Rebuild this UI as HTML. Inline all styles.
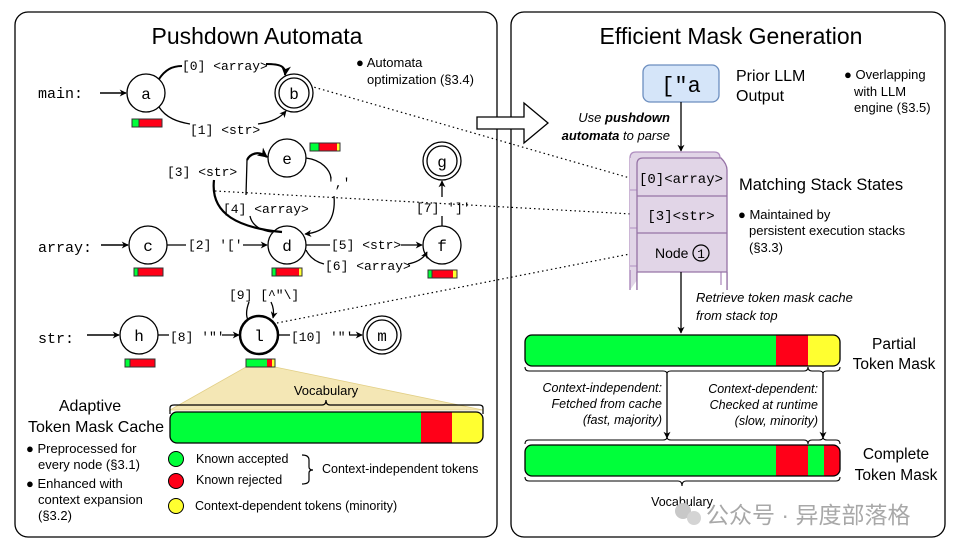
<!DOCTYPE html>
<html><head><meta charset="utf-8"><style>
html,body{margin:0;padding:0;background:#fff;width:976px;height:550px;overflow:hidden}
svg text{font-family:"Liberation Sans",sans-serif;fill:#000}
.m{font-family:"Liberation Mono","DejaVu Sans Mono",monospace !important}
</style></head><body>
<svg width="976" height="550" viewBox="0 0 976 550" xmlns="http://www.w3.org/2000/svg">
<defs>
<marker id="ar" viewBox="0 0 10 10" refX="9" refY="5" markerWidth="7" markerHeight="7" orient="auto-start-reverse" markerUnits="userSpaceOnUse"><path d="M0,0 L10,5 L0,10 L3,5z" fill="#000"/></marker>
<marker id="arb" viewBox="0 0 10 10" refX="9" refY="5" markerWidth="10" markerHeight="10" orient="auto" markerUnits="userSpaceOnUse"><path d="M0,0 L10,5 L0,10 L3,5z" fill="#000"/></marker>
</defs>
<rect x="15" y="12" width="482" height="525" rx="13" fill="#fff" stroke="#000" stroke-width="1.3"/>
<rect x="511" y="12" width="434" height="525" rx="13" fill="#fff" stroke="#000" stroke-width="1.3"/>
<text x="257" y="44" font-size="23" text-anchor="middle">Pushdown Automata</text>
<text x="731" y="44" font-size="23" text-anchor="middle">Efficient Mask Generation</text>

<polygon points="246,367 275,367 483,410 170,410" fill="#f4e7b5" stroke="#e2cf86" stroke-width="0.8"/>

<g stroke="#000" stroke-width="1.2" stroke-dasharray="1.5,3" fill="none">
<line x1="310" y1="86" x2="630" y2="178"/>
<line x1="215" y1="191" x2="632" y2="214"/>
<line x1="277" y1="323" x2="635" y2="253"/>
</g>

<text x="38" y="98" font-size="15" class="m">main:</text>
<line x1="100" y1="93" x2="126" y2="93" stroke="#000" stroke-width="1.5" marker-end="url(#ar)"/>
<circle cx="146" cy="93" r="19" fill="#fff" stroke="#000" stroke-width="1.3"/>
<text x="146" y="99" font-size="16" text-anchor="middle" class="m">a</text>
<circle cx="294" cy="93" r="19" fill="#fff" stroke="#000" stroke-width="1.3"/>
<circle cx="294" cy="93" r="15" fill="none" stroke="#000" stroke-width="1.3"/>
<text x="294" y="99" font-size="16" text-anchor="middle" class="m">b</text>
<path d="M159,79 C165,70 172,66 182,66" fill="none" stroke="#000" stroke-width="2"/>
<path d="M266,64 C280,64 286,66 285,75" fill="none" stroke="#000" stroke-width="2" marker-end="url(#arb)"/>
<text x="182" y="70" font-size="13" class="m">[0] &lt;array&gt;</text>
<path d="M159,107 C166,118 178,122 190,124" fill="none" stroke="#000" stroke-width="1.3"/>
<path d="M258,124 C272,122 280,118 286,111" fill="none" stroke="#000" stroke-width="1.3" marker-end="url(#ar)"/>
<text x="190" y="134" font-size="13" class="m">[1] &lt;str&gt;</text>

<text x="38" y="252" font-size="15" class="m">array:</text>
<line x1="101" y1="245" x2="128" y2="245" stroke="#000" stroke-width="1.5" marker-end="url(#ar)"/>
<circle cx="148" cy="245" r="19" fill="#fff" stroke="#000" stroke-width="1.3"/>
<text x="148" y="251" font-size="16" text-anchor="middle" class="m">c</text>
<circle cx="287" cy="245" r="19" fill="#fff" stroke="#000" stroke-width="1.3"/>
<text x="287" y="251" font-size="16" text-anchor="middle" class="m">d</text>
<circle cx="287" cy="158" r="19" fill="#fff" stroke="#000" stroke-width="1.3"/>
<text x="287" y="164" font-size="16" text-anchor="middle" class="m">e</text>
<circle cx="442" cy="245" r="19" fill="#fff" stroke="#000" stroke-width="1.3"/>
<text x="442" y="251" font-size="16" text-anchor="middle" class="m">f</text>
<circle cx="442" cy="161" r="19" fill="#fff" stroke="#000" stroke-width="1.3"/>
<circle cx="442" cy="161" r="15" fill="none" stroke="#000" stroke-width="1.3"/>
<text x="442" y="167" font-size="16" text-anchor="middle" class="m">g</text>
<line x1="167" y1="245" x2="186" y2="245" stroke="#000" stroke-width="1.3"/>
<text x="188" y="249" font-size="13" class="m">[2] '['</text>
<line x1="243" y1="245" x2="267" y2="245" stroke="#000" stroke-width="1.3" marker-end="url(#ar)"/>
<line x1="306" y1="245" x2="330" y2="245" stroke="#000" stroke-width="1.3"/>
<text x="331" y="249" font-size="13" class="m">[5] &lt;str&gt;</text>
<line x1="401" y1="245" x2="422" y2="245" stroke="#000" stroke-width="1.3" marker-end="url(#ar)"/>
<path d="M306,250 C310,258 316,262 324,264" fill="none" stroke="#000" stroke-width="1.3"/>
<text x="325" y="270" font-size="13" class="m">[6] &lt;array&gt;</text>
<path d="M408,264 C418,262 424,258 427,252" fill="none" stroke="#000" stroke-width="1.3" marker-end="url(#ar)"/>
<line x1="442" y1="226" x2="442" y2="216" stroke="#000" stroke-width="1.3"/>
<text x="416" y="212" font-size="13" class="m">[7] ']'</text>
<line x1="442" y1="197" x2="442" y2="181" stroke="#000" stroke-width="1.3" marker-end="url(#ar)"/>
<text x="167" y="176" font-size="13" class="m">[3] &lt;str&gt;</text>
<path d="M282,232 C240,228 210,215 214,180" fill="none" stroke="#000" stroke-width="2.2"/>
<path d="M247,160 C250,154 258,150 267,157" fill="none" stroke="#000" stroke-width="2.2" marker-end="url(#arb)"/>
<path d="M246,195 L247,160" fill="none" stroke="#000" stroke-width="1.3"/>
<text x="223" y="213" font-size="13" class="m">[4] &lt;array&gt;</text>
<path d="M250,216 C252,226 262,231 272,232" fill="none" stroke="#000" stroke-width="1.3"/>
<path d="M306,158 C322,160 330,170 331,178" fill="none" stroke="#000" stroke-width="1.3"/>
<text x="327" y="187" font-size="13" class="m">','</text>
<path d="M334,196 C336,220 326,232 305,234" fill="none" stroke="#000" stroke-width="1.3" marker-end="url(#ar)"/>

<text x="38" y="343" font-size="15" class="m">str:</text>
<line x1="87" y1="335" x2="119" y2="335" stroke="#000" stroke-width="1.5" marker-end="url(#ar)"/>
<circle cx="139" cy="335" r="19" fill="#fff" stroke="#000" stroke-width="1.3"/>
<text x="139" y="341" font-size="16" text-anchor="middle" class="m">h</text>
<circle cx="259" cy="335" r="19" fill="#fff" stroke="#000" stroke-width="2.5"/>
<text x="259" y="341" font-size="16" text-anchor="middle" class="m">l</text>
<circle cx="382" cy="335" r="19" fill="#fff" stroke="#000" stroke-width="1.3"/>
<circle cx="382" cy="335" r="15" fill="none" stroke="#000" stroke-width="1.3"/>
<text x="382" y="341" font-size="16" text-anchor="middle" class="m">m</text>
<line x1="158" y1="335" x2="169" y2="335" stroke="#000" stroke-width="1.3"/>
<text x="170" y="341" font-size="13" class="m">[8] '"'</text>
<line x1="222" y1="335" x2="239" y2="335" stroke="#000" stroke-width="1.3" marker-end="url(#ar)"/>
<line x1="278" y1="335" x2="290" y2="335" stroke="#000" stroke-width="1.3"/>
<text x="291" y="341" font-size="13" class="m">[10] '"'</text>
<line x1="350" y1="335" x2="362" y2="335" stroke="#000" stroke-width="1.3" marker-end="url(#ar)"/>
<text x="229" y="299" font-size="13" class="m">[9] [^"\]</text>
<path d="M249,302 C246,310 246,316 248,320" fill="none" stroke="#000" stroke-width="1.3"/>
<path d="M271,302 C274,308 274,313 273,318" fill="none" stroke="#000" stroke-width="1.3" marker-end="url(#ar)"/>

<g stroke="#333" stroke-width="1">
<g><rect x="132" y="119" width="30" height="8" fill="#ff0018"/><rect x="132" y="119" width="7" height="8" fill="#00ff3a"/><rect x="132" y="119" width="30" height="8" fill="none"/></g>
<g><rect x="310" y="143" width="30" height="8" fill="#ff0018"/><rect x="310" y="143" width="9" height="8" fill="#00ff3a"/><rect x="337" y="143" width="3" height="8" fill="#ffff30" stroke="none"/><rect x="310" y="143" width="30" height="8" fill="none"/></g>
<g><rect x="134" y="268" width="29" height="8" fill="#ff0018"/><rect x="134" y="268" width="4" height="8" fill="#00ff3a"/><rect x="134" y="268" width="29" height="8" fill="none"/></g>
<g><rect x="272" y="268" width="30" height="8" fill="#ff0018"/><rect x="272" y="268" width="4" height="8" fill="#00ff3a"/><rect x="299" y="268" width="3" height="8" fill="#ffff30" stroke="none"/><rect x="272" y="268" width="30" height="8" fill="none"/></g>
<g><rect x="428" y="270" width="29" height="8" fill="#ff0018"/><rect x="428" y="270" width="4" height="8" fill="#00ff3a"/><rect x="453" y="270" width="4" height="8" fill="#ffff30" stroke="none"/><rect x="428" y="270" width="29" height="8" fill="none"/></g>
<g><rect x="125" y="359" width="30" height="8" fill="#ff0018"/><rect x="125" y="359" width="5" height="8" fill="#00ff3a"/><rect x="125" y="359" width="30" height="8" fill="none"/></g>
<g><rect x="246" y="359" width="29" height="8" fill="#00ff3a"/><rect x="267" y="359" width="5" height="8" fill="#ff0018" stroke="none"/><rect x="272" y="359" width="3" height="8" fill="#ffff30" stroke="none"/><rect x="246" y="359" width="29" height="8" fill="none"/></g>
</g>

<text x="356" y="67" font-size="13">● Automata</text>
<text x="367" y="84" font-size="13">optimization (§3.4)</text>

<text x="326" y="395" font-size="13" text-anchor="middle">Vocabulary</text>
<path d="M170,414 L170,408 Q170,405 174,405 L322,405 Q326,405 326,400 Q326,405 330,405 L479,405 Q483,405 483,408 L483,414" fill="none" stroke="#000" stroke-width="1.2"/>
<clipPath id="c1"><rect x="170" y="412" width="313" height="31" rx="7"/></clipPath>
<g clip-path="url(#c1)"><rect x="170" y="412" width="313" height="31" fill="#00ff3a"/><rect x="421" y="412" width="31" height="31" fill="#ff0018"/><rect x="452" y="412" width="31" height="31" fill="#ffff30"/></g>
<rect x="170" y="412" width="313" height="31" rx="7" fill="none" stroke="#000" stroke-width="1.3"/>
<circle cx="176" cy="459" r="7.5" fill="#00ff3a" stroke="#000"/>
<circle cx="176" cy="481" r="7.5" fill="#ff0018" stroke="#000"/>
<circle cx="176" cy="506" r="7.5" fill="#ffff30" stroke="#000"/>
<text x="196" y="463" font-size="12.5">Known accepted</text>
<text x="196" y="484" font-size="12.5">Known rejected</text>
<text x="195" y="510" font-size="12.5">Context-dependent tokens (minority)</text>
<path d="M302,455 Q309,455 309,460 L309,467 Q309,470 313,470 Q309,470 309,473 L309,480 Q309,484 302,484" fill="none" stroke="#000" stroke-width="1.2"/>
<text x="322" y="473" font-size="12.5">Context-independent tokens</text>
<text x="90" y="411" font-size="16" text-anchor="middle">Adaptive</text>
<text x="96" y="432" font-size="16" text-anchor="middle">Token Mask Cache</text>
<text x="26" y="453" font-size="13">● Preprocessed for</text>
<text x="38" y="469" font-size="13">every node (§3.1)</text>
<text x="26" y="488" font-size="13">● Enhanced with</text>
<text x="38" y="504" font-size="13">context expansion</text>
<text x="38" y="520" font-size="13">(§3.2)</text>

<path d="M477,117 L524,117 L524,103 L548,123 L524,143 L524,129 L477,129 Z" fill="#fff" stroke="#000" stroke-width="1.3"/>

<rect x="643" y="65" width="76" height="37" rx="7" fill="#d5e5f9" stroke="#6c8ebf" stroke-width="1.3"/>
<text x="681" y="92" font-size="22" text-anchor="middle" class="m">["a</text>
<text x="736" y="81" font-size="16">Prior LLM</text>
<text x="736" y="101" font-size="16">Output</text>
<text x="844" y="79" font-size="13">● Overlapping</text>
<text x="854" y="96" font-size="13">with LLM</text>
<text x="854" y="112" font-size="13">engine (§3.5)</text>
<text x="670" y="122" font-size="13" text-anchor="end" font-style="italic">Use <tspan font-weight="bold">pushdown</tspan></text>
<text x="670" y="140" font-size="13" text-anchor="end" font-style="italic"><tspan font-weight="bold">automata</tspan> to parse</text>
<line x1="681" y1="102" x2="681" y2="151" stroke="#000" stroke-width="1.3" marker-end="url(#ar)"/>
<path d="M630,290 L630,158 Q630,152 636,152 L714,152 Q720,152 720,158 L720,164" fill="#e1d5e7" stroke="#b08fc0" stroke-width="1.3"/>
<rect x="630" y="158" width="8" height="112" fill="#e1d5e7" stroke="none"/>
<line x1="630" y1="190" x2="637" y2="190" stroke="#b08fc0"/><line x1="630" y1="228" x2="637" y2="228" stroke="#b08fc0"/><line x1="630" y1="266" x2="637" y2="266" stroke="#b08fc0"/>
<path d="M637,290 L637,164 Q637,158 643,158 L721,158 Q727,164 727,170 L727,290" fill="#e1d5e7" stroke="#9673a6" stroke-width="1.3"/>
<rect x="637" y="272" width="90" height="20" fill="#fff"/>
<line x1="630" y1="270" x2="630" y2="290" stroke="#b08fc0" stroke-width="1.3"/>
<line x1="637" y1="272" x2="637" y2="290" stroke="#9673a6" stroke-width="1.3"/>
<line x1="721" y1="272" x2="721" y2="285" stroke="#b08fc0" stroke-width="1.3"/>
<line x1="727" y1="272" x2="727" y2="290" stroke="#9673a6" stroke-width="1.3"/>
<line x1="637" y1="196" x2="727" y2="196" stroke="#9673a6" stroke-width="1.3"/>
<line x1="637" y1="233" x2="727" y2="233" stroke="#9673a6" stroke-width="1.3"/>
<line x1="637" y1="272" x2="727" y2="272" stroke="#9673a6" stroke-width="1.3"/>
<text x="681" y="183" font-size="14" text-anchor="middle" class="m">[0]&lt;array&gt;</text>
<text x="681" y="220" font-size="14" text-anchor="middle" class="m">[3]&lt;str&gt;</text>
<text x="655" y="258" font-size="14">Node</text>
<circle cx="701" cy="253" r="8" fill="none" stroke="#000" stroke-width="1.2"/>
<text x="701" y="258" font-size="13" text-anchor="middle" class="m">1</text>
<text x="739" y="190" font-size="16.5">Matching Stack States</text>
<text x="738" y="219" font-size="13">● Maintained by</text>
<text x="749" y="235" font-size="13">persistent execution stacks</text>
<text x="749" y="252" font-size="13">(§3.3)</text>
<line x1="681" y1="272" x2="681" y2="333" stroke="#000" stroke-width="1.3" marker-end="url(#ar)"/>
<text x="696" y="302" font-size="13" font-style="italic">Retrieve token mask cache</text>
<text x="696" y="320" font-size="13" font-style="italic">from stack top</text>

<clipPath id="c2"><rect x="525" y="335" width="315" height="31" rx="7"/></clipPath>
<g clip-path="url(#c2)"><rect x="525" y="335" width="315" height="31" fill="#00ff3a"/><rect x="776" y="335" width="32" height="31" fill="#ff0018"/><rect x="808" y="335" width="32" height="31" fill="#ffff30"/></g>
<rect x="525" y="335" width="315" height="31" rx="7" fill="none" stroke="#000" stroke-width="1.3"/>
<text x="894" y="349" font-size="15.5" text-anchor="middle">Partial</text>
<text x="894" y="369" font-size="15.5" text-anchor="middle">Token Mask</text>
<path d="M525,367 Q525,371 529,371 L663,371 Q667,371 667,374 Q667,371 671,371 L804,371 Q808,371 808,367" fill="none" stroke="#000" stroke-width="1.1"/>
<path d="M808,367 Q808,371 812,371 L819,371 Q823,371 823,374 Q823,371 827,371 L836,371 Q840,371 840,367" fill="none" stroke="#000" stroke-width="1.1"/>
<line x1="667" y1="374" x2="667" y2="438" stroke="#000" stroke-width="1.3" marker-end="url(#ar)"/>
<line x1="823" y1="374" x2="823" y2="438" stroke="#000" stroke-width="1.3" marker-end="url(#ar)"/>
<text x="662" y="392" font-size="12.5" text-anchor="end" font-style="italic">Context-independent:</text>
<text x="662" y="408" font-size="12.5" text-anchor="end" font-style="italic">Fetched from cache</text>
<text x="662" y="424" font-size="12.5" text-anchor="end" font-style="italic">(fast, majority)</text>
<text x="818" y="393" font-size="12.5" text-anchor="end" font-style="italic">Context-dependent:</text>
<text x="818" y="409" font-size="12.5" text-anchor="end" font-style="italic">Checked at runtime</text>
<text x="818" y="425" font-size="12.5" text-anchor="end" font-style="italic">(slow, minority)</text>
<path d="M525,444 Q525,440 529,440 L663,440 Q667,440 667,437 Q667,440 671,440 L804,440 Q808,440 808,444" fill="none" stroke="#000" stroke-width="1.1"/>
<path d="M808,444 Q808,440 812,440 L819,440 Q823,440 823,437 Q823,440 827,440 L836,440 Q840,440 840,444" fill="none" stroke="#000" stroke-width="1.1"/>
<clipPath id="c3"><rect x="525" y="445" width="315" height="31" rx="7"/></clipPath>
<g clip-path="url(#c3)"><rect x="525" y="445" width="315" height="31" fill="#00ff3a"/><rect x="776" y="445" width="32" height="31" fill="#ff0018"/><rect x="824" y="445" width="16" height="31" fill="#ff0018"/></g>
<rect x="525" y="445" width="315" height="31" rx="7" fill="none" stroke="#000" stroke-width="1.3"/>
<text x="896" y="459" font-size="15.5" text-anchor="middle">Complete</text>
<text x="896" y="480" font-size="15.5" text-anchor="middle">Token Mask</text>
<path d="M525,477 Q525,481 529,481 L678,481 Q682,481 682,486 Q682,481 686,481 L836,481 Q840,481 840,477" fill="none" stroke="#000" stroke-width="1.1"/>
<text x="682" y="506" font-size="12.5" text-anchor="middle">Vocabulary</text>
<circle cx="683" cy="511" r="8" fill="#c8c8c8"/><circle cx="694" cy="518" r="7" fill="#d4d4d4"/>
<text x="706" y="523" font-size="23" style="fill:#a8a8a8;font-family:'Liberation Sans','Noto Sans CJK SC',sans-serif">公众号 · 异度部落格</text>
</svg>
</body></html>
